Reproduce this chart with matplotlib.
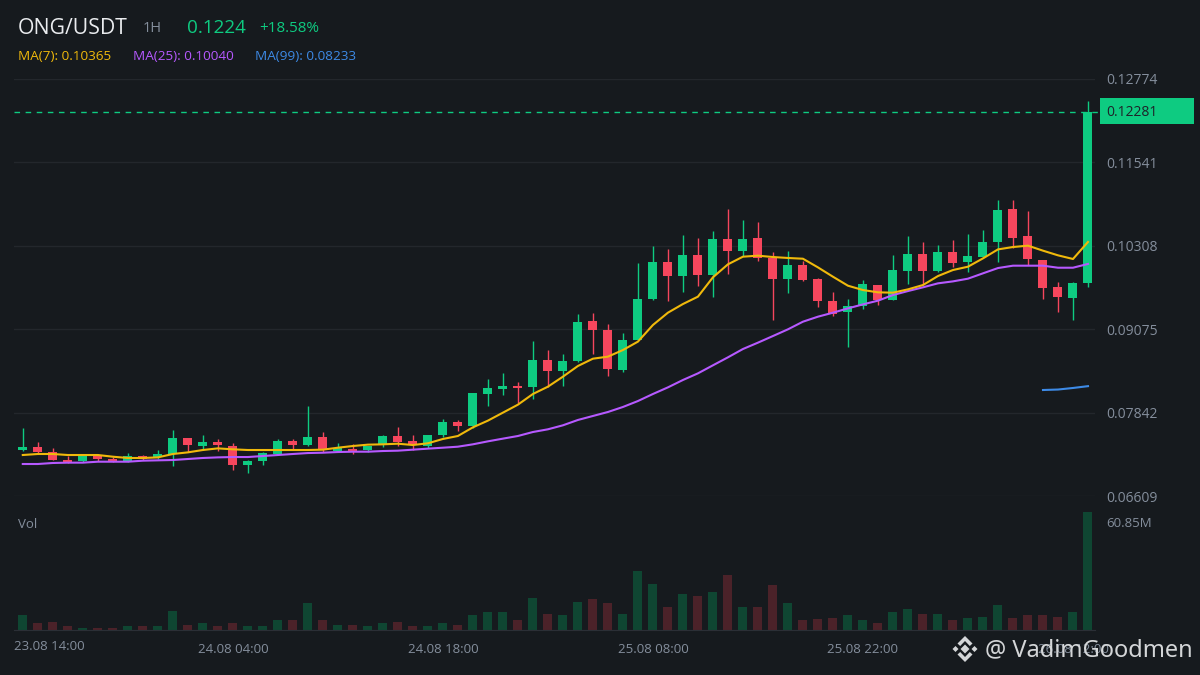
import matplotlib
matplotlib.use("Agg")
import numpy as np
import matplotlib.pyplot as plt
from matplotlib.patches import Polygon, Rectangle

plt.rcParams['font.family'] = ['Open Sans', 'DejaVu Sans']

# candles
opens = [.07289,.07333,.07259,.07141,.07126,.07200,.07156,.07121,.07200,.07190,.07230,.07466,.07348,.07407,.07348,.07067,.07126,.07230,.07422,.07363,.07481,.07274,.07304,.07289,.07378,.07496,
         .07422,.07348,.07511,.07703,.07644,.08117,.08191,.08235,.08220,.08620,.08457,.08605,.09196,.09063,.08472,.08915,.09521,.10068,.09861,.10172,.09876,.10408,.10231,.10423,.10128,.09817,
         .10024,.09817,.09492,.09329,.09418,.09728,.09506,.09935,.10186,.09935,.10216,.10068,.10142,.10364,.10852,.10453,.10098,.09699,.09536,.09758]
highs = [.07614,.07407,.07318,.07200,.07225,.07225,.07190,.07244,.07215,.07289,.07584,.07466,.07511,.07451,.07392,.07141,.07259,.07451,.07451,.07939,.07555,.07392,.07378,.07348,.07511,.07629,
         .07511,.07511,.07747,.07733,.08132,.08339,.08427,.08294,.08900,.08767,.08708,.09300,.09314,.09152,.09019,.10054,.10305,.10261,.10468,.10423,.10527,.10852,.10689,.10660,.10216,.10231,
         .10083,.09832,.09625,.09521,.09802,.09728,.10172,.10453,.10364,.10319,.10393,.10482,.10541,.10985,.10985,.10822,.10098,.09772,.09772,.12448]
lows = [.07279,.07240,.07141,.07092,.07106,.07131,.07106,.07106,.07141,.07161,.07052,.07259,.07289,.07279,.06993,.06949,.07067,.07215,.07289,.07348,.07259,.07259,.07230,.07264,.07333,.07348,
        .07289,.07314,.07486,.07570,.07614,.07939,.08102,.07984,.08043,.08225,.08235,.08590,.08708,.08383,.08442,.08915,.09507,.09492,.09625,.09714,.09551,.09891,.10157,.10083,.09211,.09610,
        .09787,.09403,.09270,.08812,.09373,.09432,.09506,.09743,.09728,.09920,.09994,.09920,.10142,.10068,.10275,.10024,.09521,.09329,.09211,.09699]
closes = [.07333,.07259,.07141,.07106,.07215,.07156,.07121,.07200,.07161,.07230,.07466,.07363,.07407,.07363,.07067,.07126,.07244,.07422,.07363,.07481,.07289,.07318,.07259,.07348,.07496,.07407,
          .07363,.07511,.07703,.07644,.08132,.08206,.08235,.08206,.08620,.08457,.08605,.09181,.09063,.08487,.08915,.09521,.10068,.09861,.10172,.09876,.10408,.10231,.10408,.10128,.09817,.10024,
          .09802,.09492,.09299,.09418,.09743,.09506,.09950,.10186,.09935,.10216,.10053,.10157,.10364,.10837,.10423,.10113,.09684,.09551,.09758,.12281]

# moving averages
ma7 = [.07215,.07230,.07230,.07215,.07215,.07215,.07190,.07171,.07171,.07180,.07230,.07254,.07289,.07313,.07299,.07289,.07289,.07289,.07289,.07289,.07294,.07323,.07348,.07368,.07373,.07382,
       .07363,.07388,.07452,.07496,.07624,.07723,.07841,.07959,.08117,.08225,.08373,.08531,.08639,.08669,.08767,.08891,.09137,.09319,.09447,.09556,.09842,.10034,.10147,.10162,.10142,.10128,
       .10117,.09989,.09851,.09718,.09654,.09620,.09615,.09664,.09728,.09861,.09950,.09999,.10122,.10255,.10290,.10310,.10236,.10167,.10113,.10365]
ma25 = [.07082,.07082,.07097,.07102,.07102,.07116,.07116,.07116,.07131,.07136,.07141,.07156,.07171,.07180,.07185,.07185,.07200,.07215,.07230,.07244,.07249,.07259,.07264,.07264,.07274,.07279,
        .07294,.07309,.07323,.07338,.07373,.07417,.07457,.07496,.07555,.07595,.07654,.07733,.07792,.07851,.07925,.08013,.08117,.08215,.08324,.08422,.08541,.08659,.08782,.08876,.08974,.09073,
        .09186,.09260,.09319,.09383,.09442,.09497,.09580,.09639,.09694,.09753,.09782,.09822,.09901,.09979,.10014,.10014,.10014,.09984,.09984,.10040]
ma99_idx = [68, 69, 70, 71]
ma99 = [.08176, .08183, .08206, .08233]

# volume in millions
volume = [8.4,3.4,4.5,1.7,1.1,1.1,1.1,1.7,1.7,1.7,10.7,2.8,3.4,1.7,3.4,2.2,1.7,5.6,5.1,15.2,5.1,2.8,2.8,2.2,3.9,4.5,
          1.7,2.2,3.9,2.8,8.4,9.6,9.6,5.6,18.0,9.0,7.9,15.7,17.4,15.2,9.0,33.2,25.8,12.9,20.2,19.1,21.4,30.9,12.9,12.9,25.3,15.2,
          5.6,6.2,6.7,8.4,5.1,3.4,10.1,11.8,9.0,9.0,5.6,6.7,7.3,14.0,6.7,7.9,8.4,7.3,9.6,66.3]

price_ticks = [.12774, .11541, .10308, .09075, .07842, .06609]
price_labels = ["0.12774", "0.11541", "0.10308", "0.09075", "0.07842", "0.06609"]
last_price = 0.12281
time_idx = [14, 28, 42, 56, 70]
time_labels = ["24.08 04:00", "24.08 18:00", "25.08 08:00", "25.08 22:00", "26.08 12:00"]

BG = "#161a1e"
GREEN = "#0ecb81"
RED = "#f6465d"
GREY = "#848e9c"
GRID = "#23272c"
W, H = 1200, 675

x = np.arange(len(opens))
o = np.array(opens)
c = np.array(closes)
up = c >= o
colors = [GREEN if u else RED for u in up]
vol_colors = ["#0f4632" if u else "#4b2229" for u in up]

fig = plt.figure(figsize=(12, 6.75), dpi=100, facecolor=BG)


def px_axes(left, top, right, bottom):
    return fig.add_axes([left/W, 1-bottom/H, (right-left)/W, (bottom-top)/H], facecolor="none")


ax = px_axes(14, 79, 1095, 496)
ax_vol = px_axes(14, 505, 1095, 629.5)

# price panel
ax.set_xlim(-0.586, 71.467)
ax.set_ylim(price_ticks[-1], price_ticks[0])
ax.set_yticks(price_ticks, price_labels)
ax.yaxis.tick_right()
ax.set_xticks([])
ax.tick_params(axis="y", length=0, pad=8, labelcolor=GREY, labelsize=10)
ax.grid(axis="y", color=GRID, lw=1)
ax.set_axisbelow(True)
for s in ax.spines.values():
    s.set_visible(False)

ax.vlines(x, lows, highs, colors=colors, lw=1.0, zorder=2)
ax.bar(x, c-o, bottom=o, width=0.6, color=colors, zorder=3)
ax.plot(x, ma7, color="#f0b90b", lw=1.5, zorder=5)
ax.plot(x, ma25, color="#b659ff", lw=1.5, zorder=4)
ax.plot(ma99_idx, ma99, color="#3d8ae6", lw=1.5, zorder=4)
ax.axhline(last_price, xmax=1.005, color=GREEN, lw=1, dashes=(4, 4), clip_on=False, zorder=1)

# last price tag
fig.add_artist(Rectangle((1100/W, 1-124/H), 94/W, 26/H, transform=fig.transFigure, color=GREEN, lw=0))
fig.text(1106/W, 1-113/H, "0.12281", color="#1e2329", fontsize=10, va="center")

# volume panel
ax_vol.set_xlim(-0.586, 71.467)
ax_vol.set_ylim(0, 70.2)
ax_vol.bar(x, volume, width=0.6, color=vol_colors)
ax_vol.set_yticks([60.85], ["60.85M"])
ax_vol.yaxis.tick_right()
ax_vol.set_xticks(time_idx, time_labels)
ax_vol.tick_params(axis="y", length=0, pad=8, labelcolor=GREY, labelsize=9.5)
ax_vol.tick_params(axis="x", length=0, pad=9.5, labelcolor=GREY, labelsize=9.5)
for name, s in ax_vol.spines.items():
    s.set_visible(name == "bottom")
    s.set_color("#2b2f36")
fig.text(14/W, 1-646.5/H, "23.08 14:00", color=GREY, fontsize=9.5, va="center")
fig.text(18/W, 1-524/H, "Vol", color=GREY, fontsize=9.5, va="center")

# header
fig.text(18/W, 1-28/H, "ONG/USDT", color="#eaecef", fontsize=15.3, va="center")
fig.text(143/W, 1-29/H, "1H", color=GREY, fontsize=10.5, va="center")
fig.text(187/W, 1-28/H, "0.1224", color=GREEN, fontsize=13.6, va="center")
fig.text(259/W, 1-29/H, "+18.58%", color=GREEN, fontsize=11, va="center")
fig.text(18/W, 1-57/H, "MA(7): 0.10365", color="#f0b90b", fontsize=9.7, va="center")
fig.text(133/W, 1-57/H, "MA(25): 0.10040", color="#b659ff", fontsize=9.7, va="center")
fig.text(255/W, 1-57/H, "MA(99): 0.08233", color="#3d8ae6", fontsize=9.7, va="center")

# watermark: logo and name
LOGO = "#d4d6d8"
lx, ly = 965, 649


def logo_poly(pts):
    fig.add_artist(Polygon([((lx+a)/W, 1-(ly+b)/H) for a, b in pts], closed=True,
                           transform=fig.transFigure, color=LOGO, lw=0))


logo_poly([(0, -4.5), (4.5, 0), (0, 4.5), (-4.5, 0)])
logo_poly([(-9.5, -3), (-6.5, 0), (-9.5, 3), (-12.5, 0)])
logo_poly([(9.5, -3), (12.5, 0), (9.5, 3), (6.5, 0)])
logo_poly([(0, -13), (7.5, -5.5), (4.8, -3), (0, -8), (-4.8, -3), (-7.5, -5.5)])
logo_poly([(0, 13), (7.5, 5.5), (4.8, 3), (0, 8), (-4.8, 3), (-7.5, 5.5)])
fig.text(985/W, 1-650/H, "@ VadimGoodmen", color=LOGO, fontsize=17, va="center",
         family=['Noto Sans', 'DejaVu Sans'])

fig.savefig("out.png", dpi=100, facecolor=BG)
